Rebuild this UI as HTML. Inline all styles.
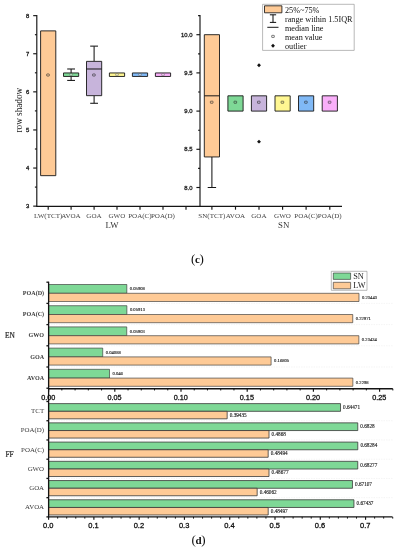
<!DOCTYPE html><html><head><meta charset="utf-8"><title>Figure</title>
<style>html,body{margin:0;padding:0;background:#fff}svg{display:block}.s{font-family:"Liberation Sans", Arial, sans-serif}.t{font-family:"Liberation Serif", "Times New Roman", serif}</style></head><body>
<svg width="399" height="550" viewBox="0 0 399 550">
<rect width="399" height="550" fill="#fff"/>
<line x1="36.80" y1="15.00" x2="36.80" y2="206.80" stroke="#141414" stroke-width="1.15" />
<line x1="36.30" y1="206.30" x2="342.00" y2="206.30" stroke="#141414" stroke-width="1.15" />
<line x1="200.00" y1="15.00" x2="200.00" y2="206.80" stroke="#141414" stroke-width="1.15" />
<line x1="33.20" y1="206.15" x2="36.80" y2="206.15" stroke="#141414" stroke-width="1.15" />
<text x="29.20" y="208.25" font-size="5.9" class="s" text-anchor="end" fill="#1a1a1a" stroke="#1a1a1a" stroke-width="0.3">3</text>
<line x1="33.20" y1="168.05" x2="36.80" y2="168.05" stroke="#141414" stroke-width="1.15" />
<text x="29.20" y="170.15" font-size="5.9" class="s" text-anchor="end" fill="#1a1a1a" stroke="#1a1a1a" stroke-width="0.3">4</text>
<line x1="33.20" y1="129.95" x2="36.80" y2="129.95" stroke="#141414" stroke-width="1.15" />
<text x="29.20" y="132.05" font-size="5.9" class="s" text-anchor="end" fill="#1a1a1a" stroke="#1a1a1a" stroke-width="0.3">5</text>
<line x1="33.20" y1="91.85" x2="36.80" y2="91.85" stroke="#141414" stroke-width="1.15" />
<text x="29.20" y="93.95" font-size="5.9" class="s" text-anchor="end" fill="#1a1a1a" stroke="#1a1a1a" stroke-width="0.3">6</text>
<line x1="33.20" y1="53.75" x2="36.80" y2="53.75" stroke="#141414" stroke-width="1.15" />
<text x="29.20" y="55.85" font-size="5.9" class="s" text-anchor="end" fill="#1a1a1a" stroke="#1a1a1a" stroke-width="0.3">7</text>
<line x1="33.20" y1="15.65" x2="36.80" y2="15.65" stroke="#141414" stroke-width="1.15" />
<text x="29.20" y="17.75" font-size="5.9" class="s" text-anchor="end" fill="#1a1a1a" stroke="#1a1a1a" stroke-width="0.3">8</text>
<line x1="34.90" y1="187.10" x2="36.80" y2="187.10" stroke="#141414" stroke-width="1.15" />
<line x1="34.90" y1="149.00" x2="36.80" y2="149.00" stroke="#141414" stroke-width="1.15" />
<line x1="34.90" y1="110.90" x2="36.80" y2="110.90" stroke="#141414" stroke-width="1.15" />
<line x1="34.90" y1="72.80" x2="36.80" y2="72.80" stroke="#141414" stroke-width="1.15" />
<line x1="34.90" y1="34.70" x2="36.80" y2="34.70" stroke="#141414" stroke-width="1.15" />
<line x1="196.40" y1="187.50" x2="200.00" y2="187.50" stroke="#141414" stroke-width="1.15" />
<text x="192.50" y="189.60" font-size="5.9" class="s" text-anchor="end" fill="#1a1a1a" stroke="#1a1a1a" stroke-width="0.3">8.0</text>
<line x1="196.40" y1="149.30" x2="200.00" y2="149.30" stroke="#141414" stroke-width="1.15" />
<text x="192.50" y="151.40" font-size="5.9" class="s" text-anchor="end" fill="#1a1a1a" stroke="#1a1a1a" stroke-width="0.3">8.5</text>
<line x1="196.40" y1="111.10" x2="200.00" y2="111.10" stroke="#141414" stroke-width="1.15" />
<text x="192.50" y="113.20" font-size="5.9" class="s" text-anchor="end" fill="#1a1a1a" stroke="#1a1a1a" stroke-width="0.3">9.0</text>
<line x1="196.40" y1="72.90" x2="200.00" y2="72.90" stroke="#141414" stroke-width="1.15" />
<text x="192.50" y="75.00" font-size="5.9" class="s" text-anchor="end" fill="#1a1a1a" stroke="#1a1a1a" stroke-width="0.3">9.5</text>
<line x1="196.40" y1="34.70" x2="200.00" y2="34.70" stroke="#141414" stroke-width="1.15" />
<text x="192.50" y="36.80" font-size="5.9" class="s" text-anchor="end" fill="#1a1a1a" stroke="#1a1a1a" stroke-width="0.3">10.0</text>
<line x1="198.10" y1="168.40" x2="200.00" y2="168.40" stroke="#141414" stroke-width="1.15" />
<line x1="198.10" y1="130.20" x2="200.00" y2="130.20" stroke="#141414" stroke-width="1.15" />
<line x1="198.10" y1="92.00" x2="200.00" y2="92.00" stroke="#141414" stroke-width="1.15" />
<line x1="198.10" y1="53.80" x2="200.00" y2="53.80" stroke="#141414" stroke-width="1.15" />
<line x1="198.10" y1="15.60" x2="200.00" y2="15.60" stroke="#141414" stroke-width="1.15" />
<line x1="48.20" y1="206.30" x2="48.20" y2="209.70" stroke="#141414" stroke-width="1.15" />
<line x1="71.10" y1="206.30" x2="71.10" y2="209.70" stroke="#141414" stroke-width="1.15" />
<line x1="94.10" y1="206.30" x2="94.10" y2="209.70" stroke="#141414" stroke-width="1.15" />
<line x1="117.00" y1="206.30" x2="117.00" y2="209.70" stroke="#141414" stroke-width="1.15" />
<line x1="140.00" y1="206.30" x2="140.00" y2="209.70" stroke="#141414" stroke-width="1.15" />
<line x1="163.00" y1="206.30" x2="163.00" y2="209.70" stroke="#141414" stroke-width="1.15" />
<line x1="186.00" y1="206.30" x2="186.00" y2="209.70" stroke="#141414" stroke-width="1.15" />
<line x1="211.90" y1="206.30" x2="211.90" y2="209.70" stroke="#141414" stroke-width="1.15" />
<line x1="235.50" y1="206.30" x2="235.50" y2="209.70" stroke="#141414" stroke-width="1.15" />
<line x1="259.00" y1="206.30" x2="259.00" y2="209.70" stroke="#141414" stroke-width="1.15" />
<line x1="282.60" y1="206.30" x2="282.60" y2="209.70" stroke="#141414" stroke-width="1.15" />
<line x1="306.10" y1="206.30" x2="306.10" y2="209.70" stroke="#141414" stroke-width="1.15" />
<line x1="329.80" y1="206.30" x2="329.80" y2="209.70" stroke="#141414" stroke-width="1.15" />
<text x="48.10" y="217.50" font-size="7.05" class="t" text-anchor="middle" fill="#444" >LW(TCT)</text>
<text x="71.00" y="217.50" font-size="7.05" class="t" text-anchor="middle" fill="#444" >AVOA</text>
<text x="94.00" y="217.50" font-size="7.05" class="t" text-anchor="middle" fill="#444" >GOA</text>
<text x="116.90" y="217.50" font-size="7.05" class="t" text-anchor="middle" fill="#444" >GWO</text>
<text x="139.90" y="217.50" font-size="7.05" class="t" text-anchor="middle" fill="#444" >POA(C)</text>
<text x="162.90" y="217.50" font-size="7.05" class="t" text-anchor="middle" fill="#444" >POA(D)</text>
<text x="211.80" y="217.70" font-size="7.05" class="t" text-anchor="middle" fill="#444" >SN(TCT)</text>
<text x="235.40" y="217.70" font-size="7.05" class="t" text-anchor="middle" fill="#444" >AVOA</text>
<text x="258.90" y="217.70" font-size="7.05" class="t" text-anchor="middle" fill="#444" >GOA</text>
<text x="282.50" y="217.70" font-size="7.05" class="t" text-anchor="middle" fill="#444" >GWO</text>
<text x="306.00" y="217.70" font-size="7.05" class="t" text-anchor="middle" fill="#444" >POA(C)</text>
<text x="329.70" y="217.70" font-size="7.05" class="t" text-anchor="middle" fill="#444" >POA(D)</text>
<text x="112.10" y="228.20" font-size="8.8" class="t" text-anchor="middle" fill="#333" >LW</text>
<text x="283.70" y="228.40" font-size="8.8" class="t" text-anchor="middle" fill="#333" >SN</text>
<text transform="translate(21.9,110.2) rotate(-90) scale(0.893,1)" font-size="10.3" class="t" text-anchor="middle" fill="#222">row shadow</text>
<rect x="40.60" y="30.89" width="15.20" height="144.78" fill="#FECA96" stroke="#161616" stroke-width="0.9" stroke-linejoin="round"/>
<rect x="46.70" y="73.95" width="2.6" height="2.1" rx="0.35" fill="none" stroke="#2a2a2a" stroke-width="0.6"/>
<line x1="71.10" y1="72.95" x2="71.10" y2="68.99" stroke="#161616" stroke-width="1.05" />
<line x1="67.20" y1="68.99" x2="75.00" y2="68.99" stroke="#161616" stroke-width="1.05" />
<line x1="71.10" y1="76.46" x2="71.10" y2="80.42" stroke="#161616" stroke-width="1.05" />
<line x1="67.20" y1="80.42" x2="75.00" y2="80.42" stroke="#161616" stroke-width="1.05" />
<rect x="63.50" y="72.95" width="15.20" height="3.51" fill="#7ED896" stroke="#161616" stroke-width="0.9" stroke-linejoin="round"/>
<rect x="69.60" y="73.91" width="3.0" height="1.6" rx="0.5" fill="#fff" fill-opacity="0.55" stroke="#555" stroke-width="0.4"/>
<line x1="94.10" y1="61.37" x2="94.10" y2="46.13" stroke="#161616" stroke-width="1.05" />
<line x1="90.20" y1="46.13" x2="98.00" y2="46.13" stroke="#161616" stroke-width="1.05" />
<line x1="94.10" y1="95.66" x2="94.10" y2="103.28" stroke="#161616" stroke-width="1.05" />
<line x1="90.20" y1="103.28" x2="98.00" y2="103.28" stroke="#161616" stroke-width="1.05" />
<rect x="86.50" y="61.37" width="15.20" height="34.29" fill="#C7B4DB" stroke="#161616" stroke-width="0.9" stroke-linejoin="round"/>
<line x1="86.50" y1="68.99" x2="101.70" y2="68.99" stroke="#161616" stroke-width="1.0" />
<rect x="92.60" y="73.95" width="2.6" height="2.1" rx="0.35" fill="none" stroke="#2a2a2a" stroke-width="0.6"/>
<rect x="109.40" y="72.95" width="15.20" height="3.51" fill="#FFF792" stroke="#161616" stroke-width="0.9" stroke-linejoin="round"/>
<rect x="115.50" y="73.91" width="3.0" height="1.6" rx="0.5" fill="#fff" fill-opacity="0.55" stroke="#555" stroke-width="0.4"/>
<rect x="132.40" y="72.95" width="15.20" height="3.51" fill="#80B9F6" stroke="#161616" stroke-width="0.9" stroke-linejoin="round"/>
<rect x="138.50" y="73.91" width="3.0" height="1.6" rx="0.5" fill="#fff" fill-opacity="0.55" stroke="#555" stroke-width="0.4"/>
<rect x="155.40" y="72.95" width="15.20" height="3.51" fill="#F9AFF9" stroke="#161616" stroke-width="0.9" stroke-linejoin="round"/>
<rect x="161.50" y="73.91" width="3.0" height="1.6" rx="0.5" fill="#fff" fill-opacity="0.55" stroke="#555" stroke-width="0.4"/>
<line x1="211.90" y1="156.94" x2="211.90" y2="187.50" stroke="#161616" stroke-width="1.05" />
<line x1="207.70" y1="187.50" x2="216.10" y2="187.50" stroke="#161616" stroke-width="1.05" />
<rect x="204.30" y="34.70" width="15.20" height="122.24" fill="#FECA96" stroke="#161616" stroke-width="0.9" stroke-linejoin="round"/>
<line x1="204.30" y1="95.82" x2="219.50" y2="95.82" stroke="#161616" stroke-width="1.0" />
<rect x="210.40" y="101.18" width="2.6" height="2.1" rx="0.35" fill="none" stroke="#2a2a2a" stroke-width="0.6"/>
<rect x="227.90" y="95.82" width="15.20" height="15.28" fill="#7ED896" stroke="#161616" stroke-width="0.9" stroke-linejoin="round"/>
<rect x="234.00" y="101.18" width="2.6" height="2.1" rx="0.35" fill="none" stroke="#2a2a2a" stroke-width="0.6"/>
<rect x="251.40" y="95.82" width="15.20" height="15.28" fill="#C7B4DB" stroke="#161616" stroke-width="0.9" stroke-linejoin="round"/>
<rect x="257.50" y="101.18" width="2.6" height="2.1" rx="0.35" fill="none" stroke="#2a2a2a" stroke-width="0.6"/>
<rect x="275.00" y="95.82" width="15.20" height="15.28" fill="#FFF792" stroke="#161616" stroke-width="0.9" stroke-linejoin="round"/>
<rect x="281.10" y="101.18" width="2.6" height="2.1" rx="0.35" fill="none" stroke="#2a2a2a" stroke-width="0.6"/>
<rect x="298.50" y="95.82" width="15.20" height="15.28" fill="#80B9F6" stroke="#161616" stroke-width="0.9" stroke-linejoin="round"/>
<rect x="304.60" y="101.18" width="2.6" height="2.1" rx="0.35" fill="none" stroke="#2a2a2a" stroke-width="0.6"/>
<rect x="322.20" y="95.82" width="15.20" height="15.28" fill="#F9AFF9" stroke="#161616" stroke-width="0.9" stroke-linejoin="round"/>
<rect x="328.30" y="101.18" width="2.6" height="2.1" rx="0.35" fill="none" stroke="#2a2a2a" stroke-width="0.6"/>
<polygon points="259.00,63.31 260.95,65.26 259.00,67.21 257.05,65.26" fill="#111"/>
<polygon points="259.00,139.71 260.95,141.66 259.00,143.61 257.05,141.66" fill="#111"/>
<rect x="262.60" y="4.30" width="91.60" height="46.10" fill="#fff" stroke="#8a8a8a" stroke-width="0.6" stroke-linejoin="round"/>
<rect x="264.50" y="5.80" width="17.40" height="7.00" fill="#FECA96" stroke="#161616" stroke-width="0.85" stroke-linejoin="round"/>
<line x1="273.00" y1="14.80" x2="273.00" y2="22.40" stroke="#161616" stroke-width="1.05" />
<line x1="269.85" y1="14.80" x2="276.15" y2="14.80" stroke="#161616" stroke-width="1.05" />
<line x1="269.85" y1="22.40" x2="276.15" y2="22.40" stroke="#161616" stroke-width="1.05" />
<line x1="267.30" y1="27.30" x2="278.50" y2="27.30" stroke="#161616" stroke-width="1.0" />
<rect x="271.70" y="35.35" width="2.6" height="2.1" rx="0.35" fill="none" stroke="#2a2a2a" stroke-width="0.6"/>
<polygon points="273.00,43.75 274.95,45.70 273.00,47.65 271.05,45.70" fill="#111"/>
<text x="285.00" y="12.60" font-size="8.2" class="t" text-anchor="start" fill="#111" >25%~75%</text>
<text x="285.00" y="21.60" font-size="8.2" class="t" text-anchor="start" fill="#111" >range within 1.5IQR</text>
<text x="285.00" y="30.60" font-size="8.2" class="t" text-anchor="start" fill="#111" >median line</text>
<text x="285.00" y="39.60" font-size="8.2" class="t" text-anchor="start" fill="#111" >mean value</text>
<text x="285.00" y="48.60" font-size="8.2" class="t" text-anchor="start" fill="#111" >outlier</text>
<text x="197.4" y="262.8" font-size="13" class="t" text-anchor="middle" fill="#111">(<tspan font-weight="bold" font-size="11" dx="-0.4">c</tspan><tspan dx="-0.4">)</tspan></text>
<line x1="48.60" y1="303.40" x2="392.50" y2="303.40" stroke="#ededed" stroke-width="0.6" stroke-dasharray="1.4 1.1"/>
<line x1="48.60" y1="324.60" x2="392.50" y2="324.60" stroke="#ededed" stroke-width="0.6" stroke-dasharray="1.4 1.1"/>
<line x1="48.60" y1="345.80" x2="392.50" y2="345.80" stroke="#ededed" stroke-width="0.6" stroke-dasharray="1.4 1.1"/>
<line x1="48.60" y1="367.00" x2="392.50" y2="367.00" stroke="#ededed" stroke-width="0.6" stroke-dasharray="1.4 1.1"/>
<rect x="48.60" y="284.50" width="78.22" height="8.80" fill="#7ED896" stroke="#383838" stroke-width="0.65" stroke-linejoin="round"/>
<rect x="48.60" y="293.30" width="310.39" height="8.20" fill="#FECA96" stroke="#383838" stroke-width="0.65" stroke-linejoin="round"/>
<text x="129.82" y="290.25" font-size="4.65" class="t" text-anchor="start" fill="#111" stroke="#222" stroke-width="0.12">0.05908</text>
<text x="361.99" y="298.85" font-size="4.65" class="t" text-anchor="start" fill="#111" stroke="#222" stroke-width="0.12">0.23443</text>
<text x="44.10" y="295.00" font-size="6.1" class="t" text-anchor="end" fill="#3a3a3a" font-weight="bold">POA(D)</text>
<rect x="48.60" y="305.70" width="78.29" height="8.80" fill="#7ED896" stroke="#383838" stroke-width="0.65" stroke-linejoin="round"/>
<rect x="48.60" y="314.50" width="304.14" height="8.20" fill="#FECA96" stroke="#383838" stroke-width="0.65" stroke-linejoin="round"/>
<text x="129.89" y="311.45" font-size="4.65" class="t" text-anchor="start" fill="#111" stroke="#222" stroke-width="0.12">0.05913</text>
<text x="355.74" y="320.05" font-size="4.65" class="t" text-anchor="start" fill="#111" stroke="#222" stroke-width="0.12">0.22971</text>
<text x="44.10" y="316.20" font-size="6.1" class="t" text-anchor="end" fill="#3a3a3a" font-weight="bold">POA(C)</text>
<rect x="48.60" y="326.90" width="78.16" height="8.80" fill="#7ED896" stroke="#383838" stroke-width="0.65" stroke-linejoin="round"/>
<rect x="48.60" y="335.70" width="310.27" height="8.20" fill="#FECA96" stroke="#383838" stroke-width="0.65" stroke-linejoin="round"/>
<text x="129.76" y="332.65" font-size="4.65" class="t" text-anchor="start" fill="#111" stroke="#222" stroke-width="0.12">0.05903</text>
<text x="361.87" y="341.25" font-size="4.65" class="t" text-anchor="start" fill="#111" stroke="#222" stroke-width="0.12">0.23434</text>
<text x="44.10" y="337.40" font-size="6.1" class="t" text-anchor="end" fill="#3a3a3a" font-weight="bold">GWO</text>
<rect x="48.60" y="348.10" width="54.13" height="8.80" fill="#7ED896" stroke="#383838" stroke-width="0.65" stroke-linejoin="round"/>
<rect x="48.60" y="356.90" width="222.50" height="8.20" fill="#FECA96" stroke="#383838" stroke-width="0.65" stroke-linejoin="round"/>
<text x="105.73" y="353.85" font-size="4.65" class="t" text-anchor="start" fill="#111" stroke="#222" stroke-width="0.12">0.04088</text>
<text x="274.10" y="362.45" font-size="4.65" class="t" text-anchor="start" fill="#111" stroke="#222" stroke-width="0.12">0.16805</text>
<text x="44.10" y="358.60" font-size="6.1" class="t" text-anchor="end" fill="#3a3a3a" font-weight="bold">GOA</text>
<rect x="48.60" y="369.30" width="60.90" height="8.80" fill="#7ED896" stroke="#383838" stroke-width="0.65" stroke-linejoin="round"/>
<rect x="48.60" y="378.10" width="304.26" height="8.20" fill="#FECA96" stroke="#383838" stroke-width="0.65" stroke-linejoin="round"/>
<text x="112.50" y="375.05" font-size="4.65" class="t" text-anchor="start" fill="#111" stroke="#222" stroke-width="0.12">0.046</text>
<text x="355.86" y="383.65" font-size="4.65" class="t" text-anchor="start" fill="#111" stroke="#222" stroke-width="0.12">0.2298</text>
<text x="44.10" y="379.80" font-size="6.1" class="t" text-anchor="end" fill="#3a3a3a" font-weight="bold">AVOA</text>
<line x1="48.60" y1="281.70" x2="48.60" y2="388.70" stroke="#141414" stroke-width="1.3" />
<line x1="48.10" y1="388.75" x2="392.80" y2="388.75" stroke="#141414" stroke-width="1.3" />
<line x1="46.40" y1="282.20" x2="48.60" y2="282.20" stroke="#141414" stroke-width="1.3" />
<line x1="46.40" y1="303.40" x2="48.60" y2="303.40" stroke="#141414" stroke-width="1.3" />
<line x1="46.40" y1="324.60" x2="48.60" y2="324.60" stroke="#141414" stroke-width="1.3" />
<line x1="46.40" y1="345.80" x2="48.60" y2="345.80" stroke="#141414" stroke-width="1.3" />
<line x1="46.40" y1="367.00" x2="48.60" y2="367.00" stroke="#141414" stroke-width="1.3" />
<line x1="46.40" y1="388.20" x2="48.60" y2="388.20" stroke="#141414" stroke-width="1.3" />
<line x1="48.60" y1="388.75" x2="48.60" y2="391.65" stroke="#141414" stroke-width="1.15" />
<text x="48.30" y="399.60" font-size="7.25" class="s" text-anchor="middle" fill="#0a0a0a" stroke="#111" stroke-width="0.28">0.00</text>
<line x1="61.84" y1="388.75" x2="61.84" y2="390.45" stroke="#141414" stroke-width="1.0" />
<line x1="75.08" y1="388.75" x2="75.08" y2="390.45" stroke="#141414" stroke-width="1.0" />
<line x1="88.32" y1="388.75" x2="88.32" y2="390.45" stroke="#141414" stroke-width="1.0" />
<line x1="101.56" y1="388.75" x2="101.56" y2="390.45" stroke="#141414" stroke-width="1.0" />
<line x1="114.80" y1="388.75" x2="114.80" y2="391.65" stroke="#141414" stroke-width="1.15" />
<text x="114.50" y="399.60" font-size="7.25" class="s" text-anchor="middle" fill="#0a0a0a" stroke="#111" stroke-width="0.28">0.05</text>
<line x1="128.04" y1="388.75" x2="128.04" y2="390.45" stroke="#141414" stroke-width="1.0" />
<line x1="141.28" y1="388.75" x2="141.28" y2="390.45" stroke="#141414" stroke-width="1.0" />
<line x1="154.52" y1="388.75" x2="154.52" y2="390.45" stroke="#141414" stroke-width="1.0" />
<line x1="167.76" y1="388.75" x2="167.76" y2="390.45" stroke="#141414" stroke-width="1.0" />
<line x1="181.00" y1="388.75" x2="181.00" y2="391.65" stroke="#141414" stroke-width="1.15" />
<text x="180.70" y="399.60" font-size="7.25" class="s" text-anchor="middle" fill="#0a0a0a" stroke="#111" stroke-width="0.28">0.10</text>
<line x1="194.24" y1="388.75" x2="194.24" y2="390.45" stroke="#141414" stroke-width="1.0" />
<line x1="207.48" y1="388.75" x2="207.48" y2="390.45" stroke="#141414" stroke-width="1.0" />
<line x1="220.72" y1="388.75" x2="220.72" y2="390.45" stroke="#141414" stroke-width="1.0" />
<line x1="233.96" y1="388.75" x2="233.96" y2="390.45" stroke="#141414" stroke-width="1.0" />
<line x1="247.20" y1="388.75" x2="247.20" y2="391.65" stroke="#141414" stroke-width="1.15" />
<text x="246.90" y="399.60" font-size="7.25" class="s" text-anchor="middle" fill="#0a0a0a" stroke="#111" stroke-width="0.28">0.15</text>
<line x1="260.44" y1="388.75" x2="260.44" y2="390.45" stroke="#141414" stroke-width="1.0" />
<line x1="273.68" y1="388.75" x2="273.68" y2="390.45" stroke="#141414" stroke-width="1.0" />
<line x1="286.92" y1="388.75" x2="286.92" y2="390.45" stroke="#141414" stroke-width="1.0" />
<line x1="300.16" y1="388.75" x2="300.16" y2="390.45" stroke="#141414" stroke-width="1.0" />
<line x1="313.40" y1="388.75" x2="313.40" y2="391.65" stroke="#141414" stroke-width="1.15" />
<text x="313.10" y="399.60" font-size="7.25" class="s" text-anchor="middle" fill="#0a0a0a" stroke="#111" stroke-width="0.28">0.20</text>
<line x1="326.64" y1="388.75" x2="326.64" y2="390.45" stroke="#141414" stroke-width="1.0" />
<line x1="339.88" y1="388.75" x2="339.88" y2="390.45" stroke="#141414" stroke-width="1.0" />
<line x1="353.12" y1="388.75" x2="353.12" y2="390.45" stroke="#141414" stroke-width="1.0" />
<line x1="366.36" y1="388.75" x2="366.36" y2="390.45" stroke="#141414" stroke-width="1.0" />
<line x1="379.60" y1="388.75" x2="379.60" y2="391.65" stroke="#141414" stroke-width="1.15" />
<text x="379.30" y="399.60" font-size="7.25" class="s" text-anchor="middle" fill="#0a0a0a" stroke="#111" stroke-width="0.28">0.25</text>
<line x1="392.84" y1="388.75" x2="392.84" y2="390.45" stroke="#141414" stroke-width="1.0" />
<text x="10.00" y="338.20" font-size="7.4" class="t" text-anchor="middle" fill="#2a2a2a" stroke="#2a2a2a" stroke-width="0.2">EN</text>
<rect x="331.30" y="271.30" width="35.70" height="19.00" fill="#fff" stroke="#8a8a8a" stroke-width="0.6" stroke-linejoin="round"/>
<rect x="333.30" y="273.00" width="17.30" height="6.40" fill="#7ED896" stroke="#383838" stroke-width="0.65" stroke-linejoin="round"/>
<rect x="333.30" y="282.30" width="17.30" height="6.50" fill="#FECA96" stroke="#383838" stroke-width="0.65" stroke-linejoin="round"/>
<text x="353.20" y="279.30" font-size="8.3" class="t" text-anchor="start" fill="#222" >SN</text>
<text x="353.20" y="288.10" font-size="8.3" class="t" text-anchor="start" fill="#222" >LW</text>
<line x1="48.60" y1="420.73" x2="392.50" y2="420.73" stroke="#ededed" stroke-width="0.6" stroke-dasharray="1.4 1.1"/>
<line x1="48.60" y1="439.97" x2="392.50" y2="439.97" stroke="#ededed" stroke-width="0.6" stroke-dasharray="1.4 1.1"/>
<line x1="48.60" y1="459.20" x2="392.50" y2="459.20" stroke="#ededed" stroke-width="0.6" stroke-dasharray="1.4 1.1"/>
<line x1="48.60" y1="478.43" x2="392.50" y2="478.43" stroke="#ededed" stroke-width="0.6" stroke-dasharray="1.4 1.1"/>
<line x1="48.60" y1="497.67" x2="392.50" y2="497.67" stroke="#ededed" stroke-width="0.6" stroke-dasharray="1.4 1.1"/>
<rect x="48.60" y="403.62" width="291.92" height="7.70" fill="#7ED896" stroke="#383838" stroke-width="0.8" stroke-linejoin="round"/>
<rect x="48.60" y="411.32" width="178.56" height="7.50" fill="#FECA96" stroke="#383838" stroke-width="0.8" stroke-linejoin="round"/>
<text x="343.12" y="408.92" font-size="5.2" class="t" text-anchor="start" fill="#111" stroke="#222" stroke-width="0.12">0.64471</text>
<text x="229.76" y="416.62" font-size="5.2" class="t" text-anchor="start" fill="#111" stroke="#222" stroke-width="0.12">0.39435</text>
<text x="44.10" y="413.22" font-size="6.9" class="t" text-anchor="end" fill="#3a3a3a" font-weight="normal">TCT</text>
<rect x="48.60" y="422.85" width="309.17" height="7.70" fill="#7ED896" stroke="#383838" stroke-width="0.8" stroke-linejoin="round"/>
<rect x="48.60" y="430.55" width="220.42" height="7.50" fill="#FECA96" stroke="#383838" stroke-width="0.8" stroke-linejoin="round"/>
<text x="360.37" y="428.15" font-size="5.2" class="t" text-anchor="start" fill="#111" stroke="#222" stroke-width="0.12">0.6828</text>
<text x="271.62" y="435.85" font-size="5.2" class="t" text-anchor="start" fill="#111" stroke="#222" stroke-width="0.12">0.4868</text>
<text x="44.10" y="432.45" font-size="6.9" class="t" text-anchor="end" fill="#3a3a3a" font-weight="normal">POA(D)</text>
<rect x="48.60" y="442.08" width="309.19" height="7.70" fill="#7ED896" stroke="#383838" stroke-width="0.8" stroke-linejoin="round"/>
<rect x="48.60" y="449.78" width="219.58" height="7.50" fill="#FECA96" stroke="#383838" stroke-width="0.8" stroke-linejoin="round"/>
<text x="360.39" y="447.38" font-size="5.2" class="t" text-anchor="start" fill="#111" stroke="#222" stroke-width="0.12">0.68284</text>
<text x="270.78" y="455.08" font-size="5.2" class="t" text-anchor="start" fill="#111" stroke="#222" stroke-width="0.12">0.48494</text>
<text x="44.10" y="451.68" font-size="6.9" class="t" text-anchor="end" fill="#3a3a3a" font-weight="normal">POA(C)</text>
<rect x="48.60" y="461.32" width="309.16" height="7.70" fill="#7ED896" stroke="#383838" stroke-width="0.8" stroke-linejoin="round"/>
<rect x="48.60" y="469.02" width="220.41" height="7.50" fill="#FECA96" stroke="#383838" stroke-width="0.8" stroke-linejoin="round"/>
<text x="360.36" y="466.62" font-size="5.2" class="t" text-anchor="start" fill="#111" stroke="#222" stroke-width="0.12">0.68277</text>
<text x="271.61" y="474.32" font-size="5.2" class="t" text-anchor="start" fill="#111" stroke="#222" stroke-width="0.12">0.48677</text>
<text x="44.10" y="470.92" font-size="6.9" class="t" text-anchor="end" fill="#3a3a3a" font-weight="normal">GWO</text>
<rect x="48.60" y="480.55" width="303.86" height="7.70" fill="#7ED896" stroke="#383838" stroke-width="0.8" stroke-linejoin="round"/>
<rect x="48.60" y="488.25" width="208.57" height="7.50" fill="#FECA96" stroke="#383838" stroke-width="0.8" stroke-linejoin="round"/>
<text x="355.06" y="485.85" font-size="5.2" class="t" text-anchor="start" fill="#111" stroke="#222" stroke-width="0.12">0.67107</text>
<text x="259.77" y="493.55" font-size="5.2" class="t" text-anchor="start" fill="#111" stroke="#222" stroke-width="0.12">0.46062</text>
<text x="44.10" y="490.15" font-size="6.9" class="t" text-anchor="end" fill="#3a3a3a" font-weight="normal">GOA</text>
<rect x="48.60" y="499.78" width="305.35" height="7.70" fill="#7ED896" stroke="#383838" stroke-width="0.8" stroke-linejoin="round"/>
<rect x="48.60" y="507.48" width="219.59" height="7.50" fill="#FECA96" stroke="#383838" stroke-width="0.8" stroke-linejoin="round"/>
<text x="356.55" y="505.08" font-size="5.2" class="t" text-anchor="start" fill="#111" stroke="#222" stroke-width="0.12">0.67437</text>
<text x="270.79" y="512.78" font-size="5.2" class="t" text-anchor="start" fill="#111" stroke="#222" stroke-width="0.12">0.48497</text>
<text x="44.10" y="509.38" font-size="6.9" class="t" text-anchor="end" fill="#3a3a3a" font-weight="normal">AVOA</text>
<line x1="48.60" y1="388.20" x2="48.60" y2="517.40" stroke="#141414" stroke-width="1.3" />
<line x1="48.10" y1="516.90" x2="392.50" y2="516.90" stroke="#141414" stroke-width="1.3" />
<line x1="46.40" y1="401.50" x2="48.60" y2="401.50" stroke="#141414" stroke-width="1.3" />
<line x1="46.40" y1="420.73" x2="48.60" y2="420.73" stroke="#141414" stroke-width="1.3" />
<line x1="46.40" y1="439.97" x2="48.60" y2="439.97" stroke="#141414" stroke-width="1.3" />
<line x1="46.40" y1="459.20" x2="48.60" y2="459.20" stroke="#141414" stroke-width="1.3" />
<line x1="46.40" y1="478.43" x2="48.60" y2="478.43" stroke="#141414" stroke-width="1.3" />
<line x1="46.40" y1="497.67" x2="48.60" y2="497.67" stroke="#141414" stroke-width="1.3" />
<line x1="46.40" y1="516.90" x2="48.60" y2="516.90" stroke="#141414" stroke-width="1.3" />
<line x1="48.60" y1="516.90" x2="48.60" y2="519.80" stroke="#141414" stroke-width="1.15" />
<text x="48.30" y="527.70" font-size="7.5" class="s" text-anchor="middle" fill="#0a0a0a" stroke="#111" stroke-width="0.28">0.0</text>
<line x1="57.66" y1="516.90" x2="57.66" y2="518.60" stroke="#141414" stroke-width="1.0" />
<line x1="66.71" y1="516.90" x2="66.71" y2="518.60" stroke="#141414" stroke-width="1.0" />
<line x1="75.77" y1="516.90" x2="75.77" y2="518.60" stroke="#141414" stroke-width="1.0" />
<line x1="84.82" y1="516.90" x2="84.82" y2="518.60" stroke="#141414" stroke-width="1.0" />
<line x1="93.88" y1="516.90" x2="93.88" y2="519.80" stroke="#141414" stroke-width="1.15" />
<text x="93.58" y="527.70" font-size="7.5" class="s" text-anchor="middle" fill="#0a0a0a" stroke="#111" stroke-width="0.28">0.1</text>
<line x1="102.94" y1="516.90" x2="102.94" y2="518.60" stroke="#141414" stroke-width="1.0" />
<line x1="111.99" y1="516.90" x2="111.99" y2="518.60" stroke="#141414" stroke-width="1.0" />
<line x1="121.05" y1="516.90" x2="121.05" y2="518.60" stroke="#141414" stroke-width="1.0" />
<line x1="130.10" y1="516.90" x2="130.10" y2="518.60" stroke="#141414" stroke-width="1.0" />
<line x1="139.16" y1="516.90" x2="139.16" y2="519.80" stroke="#141414" stroke-width="1.15" />
<text x="138.86" y="527.70" font-size="7.5" class="s" text-anchor="middle" fill="#0a0a0a" stroke="#111" stroke-width="0.28">0.2</text>
<line x1="148.22" y1="516.90" x2="148.22" y2="518.60" stroke="#141414" stroke-width="1.0" />
<line x1="157.27" y1="516.90" x2="157.27" y2="518.60" stroke="#141414" stroke-width="1.0" />
<line x1="166.33" y1="516.90" x2="166.33" y2="518.60" stroke="#141414" stroke-width="1.0" />
<line x1="175.38" y1="516.90" x2="175.38" y2="518.60" stroke="#141414" stroke-width="1.0" />
<line x1="184.44" y1="516.90" x2="184.44" y2="519.80" stroke="#141414" stroke-width="1.15" />
<text x="184.14" y="527.70" font-size="7.5" class="s" text-anchor="middle" fill="#0a0a0a" stroke="#111" stroke-width="0.28">0.3</text>
<line x1="193.50" y1="516.90" x2="193.50" y2="518.60" stroke="#141414" stroke-width="1.0" />
<line x1="202.55" y1="516.90" x2="202.55" y2="518.60" stroke="#141414" stroke-width="1.0" />
<line x1="211.61" y1="516.90" x2="211.61" y2="518.60" stroke="#141414" stroke-width="1.0" />
<line x1="220.66" y1="516.90" x2="220.66" y2="518.60" stroke="#141414" stroke-width="1.0" />
<line x1="229.72" y1="516.90" x2="229.72" y2="519.80" stroke="#141414" stroke-width="1.15" />
<text x="229.42" y="527.70" font-size="7.5" class="s" text-anchor="middle" fill="#0a0a0a" stroke="#111" stroke-width="0.28">0.4</text>
<line x1="238.78" y1="516.90" x2="238.78" y2="518.60" stroke="#141414" stroke-width="1.0" />
<line x1="247.83" y1="516.90" x2="247.83" y2="518.60" stroke="#141414" stroke-width="1.0" />
<line x1="256.89" y1="516.90" x2="256.89" y2="518.60" stroke="#141414" stroke-width="1.0" />
<line x1="265.94" y1="516.90" x2="265.94" y2="518.60" stroke="#141414" stroke-width="1.0" />
<line x1="275.00" y1="516.90" x2="275.00" y2="519.80" stroke="#141414" stroke-width="1.15" />
<text x="274.70" y="527.70" font-size="7.5" class="s" text-anchor="middle" fill="#0a0a0a" stroke="#111" stroke-width="0.28">0.5</text>
<line x1="284.06" y1="516.90" x2="284.06" y2="518.60" stroke="#141414" stroke-width="1.0" />
<line x1="293.11" y1="516.90" x2="293.11" y2="518.60" stroke="#141414" stroke-width="1.0" />
<line x1="302.17" y1="516.90" x2="302.17" y2="518.60" stroke="#141414" stroke-width="1.0" />
<line x1="311.22" y1="516.90" x2="311.22" y2="518.60" stroke="#141414" stroke-width="1.0" />
<line x1="320.28" y1="516.90" x2="320.28" y2="519.80" stroke="#141414" stroke-width="1.15" />
<text x="319.98" y="527.70" font-size="7.5" class="s" text-anchor="middle" fill="#0a0a0a" stroke="#111" stroke-width="0.28">0.6</text>
<line x1="329.34" y1="516.90" x2="329.34" y2="518.60" stroke="#141414" stroke-width="1.0" />
<line x1="338.39" y1="516.90" x2="338.39" y2="518.60" stroke="#141414" stroke-width="1.0" />
<line x1="347.45" y1="516.90" x2="347.45" y2="518.60" stroke="#141414" stroke-width="1.0" />
<line x1="356.50" y1="516.90" x2="356.50" y2="518.60" stroke="#141414" stroke-width="1.0" />
<line x1="365.56" y1="516.90" x2="365.56" y2="519.80" stroke="#141414" stroke-width="1.15" />
<text x="365.26" y="527.70" font-size="7.5" class="s" text-anchor="middle" fill="#0a0a0a" stroke="#111" stroke-width="0.28">0.7</text>
<line x1="374.62" y1="516.90" x2="374.62" y2="518.60" stroke="#141414" stroke-width="1.0" />
<line x1="383.67" y1="516.90" x2="383.67" y2="518.60" stroke="#141414" stroke-width="1.0" />
<line x1="392.73" y1="516.90" x2="392.73" y2="518.60" stroke="#141414" stroke-width="1.0" />
<text x="9.60" y="456.50" font-size="7.4" class="t" text-anchor="middle" fill="#2a2a2a" stroke="#2a2a2a" stroke-width="0.2">FF</text>
<text x="198.6" y="543.6" font-size="13" class="t" text-anchor="middle" fill="#111">(<tspan font-weight="bold" font-size="11" dx="-0.4">d</tspan><tspan dx="-0.4">)</tspan></text>
</svg></body></html>
